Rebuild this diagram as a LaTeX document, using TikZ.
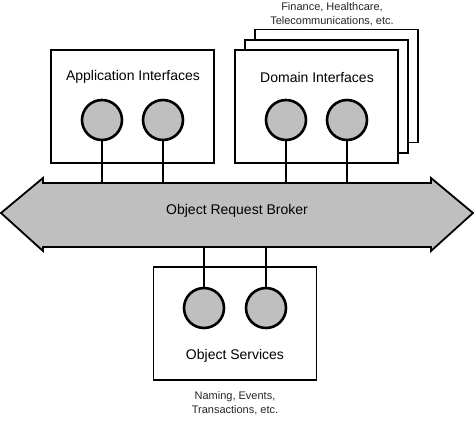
\documentclass[tikz,border=0pt]{standalone}
\usepackage{fontspec}
\setmainfont{Liberation Sans}
\begin{document}
\begin{tikzpicture}[x=1pt,y=-1pt,
  box/.style={draw=black,line width=1.4pt,fill=white,minimum width=163pt,minimum height=113pt,inner sep=0pt},
  port/.style={circle,draw=black,line width=2.6pt,fill=black!25,minimum size=40pt,inner sep=0pt},
  big/.style={font=\fontsize{14}{16}\selectfont},
  small/.style={font=\fontsize{11}{14}\selectfont,align=center,text=black!85},
  wire/.style={line width=1.4pt}]
\useasboundingbox (0,0) rectangle (474,439);
% Application interfaces
\node[box] (app) at (132.5,106.5) {};
\node[big] (applbl) at (133,77) {Application Interfaces};
\node[port] (a1) at (102,120) {};
\node[port] (a2) at (163,120) {};
% Domain interfaces (stacked)
\node[box] (dom3) at (336.5,86) {};
\node[box] (dom2) at (326.5,96.5) {};
\node[box] (dom) at (316.5,106.5) {};
\node[big] (domlbl) at (317,77) {Domain Interfaces};
\node[port] (d1) at (286,120) {};
\node[port] (d2) at (347,120) {};
\node[small] (domnote) at (332,14) {Finance, Healthcare,\\Telecommunications, etc.};
% ORB arrow
\coordinate (orbtop) at (237,183);
\coordinate (orbbot) at (237,247);
\draw[line width=1.8pt,fill=black!25] (1,213) -- (43,178) -- (43,183) -- (431,183) -- (431,178) -- (473,213)
  -- (431,251) -- (431,247) -- (43,247) -- (43,251) -- cycle;
\node[big] (orb) at (237,211) {Object Request Broker};
% Object services
\node[box] (svc) at (235,323.5) {};
\node[port] (s1) at (204,308) {};
\node[port] (s2) at (266,308) {};
\node[big] (svclbl) at (235,356) {Object Services};
\node[small] (svcnote) at (235,403) {Naming, Events,\\Transactions, etc.};
% connectors
\draw[wire] (a1.south) -- (a1.south |- orbtop);
\draw[wire] (a2.south) -- (a2.south |- orbtop);
\draw[wire] (d1.south) -- (d1.south |- orbtop);
\draw[wire] (d2.south) -- (d2.south |- orbtop);
\draw[wire] (s1.north) -- (s1.north |- orbbot);
\draw[wire] (s2.north) -- (s2.north |- orbbot);
\end{tikzpicture}
\end{document}
